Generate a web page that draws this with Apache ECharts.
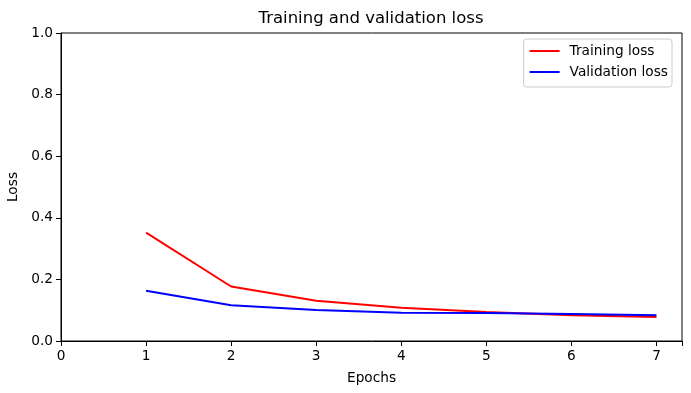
<!DOCTYPE html>
<html>
<head>
<meta charset="utf-8">
<script src="https://cdn.jsdelivr.net/npm/echarts@6/dist/echarts.min.js"></script>
<style>html,body{margin:0;padding:0;background:#fff}#c{width:691px;height:393px}</style>
</head>
<body>
<div id="c"></div>
<script>
const epochs = [1, 2, 3, 4, 5, 6, 7];
const trainingLoss = [0.352, 0.177, 0.131, 0.108, 0.094, 0.084, 0.078];
const validationLoss = [0.163, 0.116, 0.101, 0.092, 0.091, 0.088, 0.084];
const xTicks = [0, 1, 2, 3, 4, 5, 6, 7];
const yTicks = [0.0, 0.2, 0.4, 0.6, 0.8, 1.0];

const font = 'DejaVu Sans';
const fs = 13.7;
const chart = echarts.init(document.getElementById('c'), null, {renderer: 'canvas'});
chart.setOption({
  animation: false,
  backgroundColor: '#ffffff',
  title: {
    text: 'Training and validation loss',
    left: 371, top: 10, textAlign: 'center', padding: 0,
    textStyle: {fontFamily: font, fontSize: 16.5, fontWeight: 'normal', color: '#000'}
  },
  legend: {
    orient: 'vertical', right: 19, top: 39,
    backgroundColor: 'rgba(255,255,255,0.8)',
    borderColor: '#cccccc', borderWidth: 1, borderRadius: 3,
    padding: [5, 4, 8, 5],
    itemWidth: 30, itemHeight: 2, itemGap: 7,
    textStyle: {fontFamily: font, fontSize: fs, color: '#000', padding: [0, 0, 0, 5]},
    data: ['Training loss', 'Validation loss']
  },
  grid: {left: 61, right: 9, top: 33, bottom: 52, outerBoundsMode: 'none', containLabel: false,
    show: true, borderColor: '#000', borderWidth: 1, backgroundColor: 'transparent'},
  xAxis: {
    type: 'value', min: 0, max: 7.3, interval: 1,
    name: 'Epochs', nameLocation: 'middle', nameGap: 30,
    nameTextStyle: {fontFamily: font, fontSize: fs, color: '#000'},
    axisLine: {show: true, onZero: false, lineStyle: {color: '#000', width: 1}},
    axisTick: {show: true, length: 5, lineStyle: {color: '#000'}},
    splitLine: {show: false},
    axisLabel: {fontFamily: font, fontSize: fs, color: '#000', margin: 8,
      formatter: v => xTicks.includes(v) ? String(v) : ''}
  },
  yAxis: {
    type: 'value', min: 0, max: 1, interval: 0.2,
    name: 'Loss', nameLocation: 'middle', nameGap: 37, nameRotate: 90,
    nameTextStyle: {fontFamily: font, fontSize: fs, color: '#000'},
    axisLine: {show: true, lineStyle: {color: '#000', width: 1}},
    axisTick: {show: true, length: 5, lineStyle: {color: '#000'}},
    splitLine: {show: false},
    axisLabel: {fontFamily: font, fontSize: fs, color: '#000', margin: 8,
      formatter: v => {
        const t = yTicks.find(y => Math.abs(y - v) < 1e-9);
        return t === undefined ? '' : t.toFixed(1);
      }}
  },
  series: [
    {name: 'Training loss', type: 'line', symbol: 'none', color: '#ff0000',
      lineStyle: {color: '#ff0000', width: 2},
      data: epochs.map((e, i) => [e, trainingLoss[i]])},
    {name: 'Validation loss', type: 'line', symbol: 'none', color: '#0000ff',
      lineStyle: {color: '#0000ff', width: 2},
      data: epochs.map((e, i) => [e, validationLoss[i]])}
  ]
});
</script>
</body>
</html>
